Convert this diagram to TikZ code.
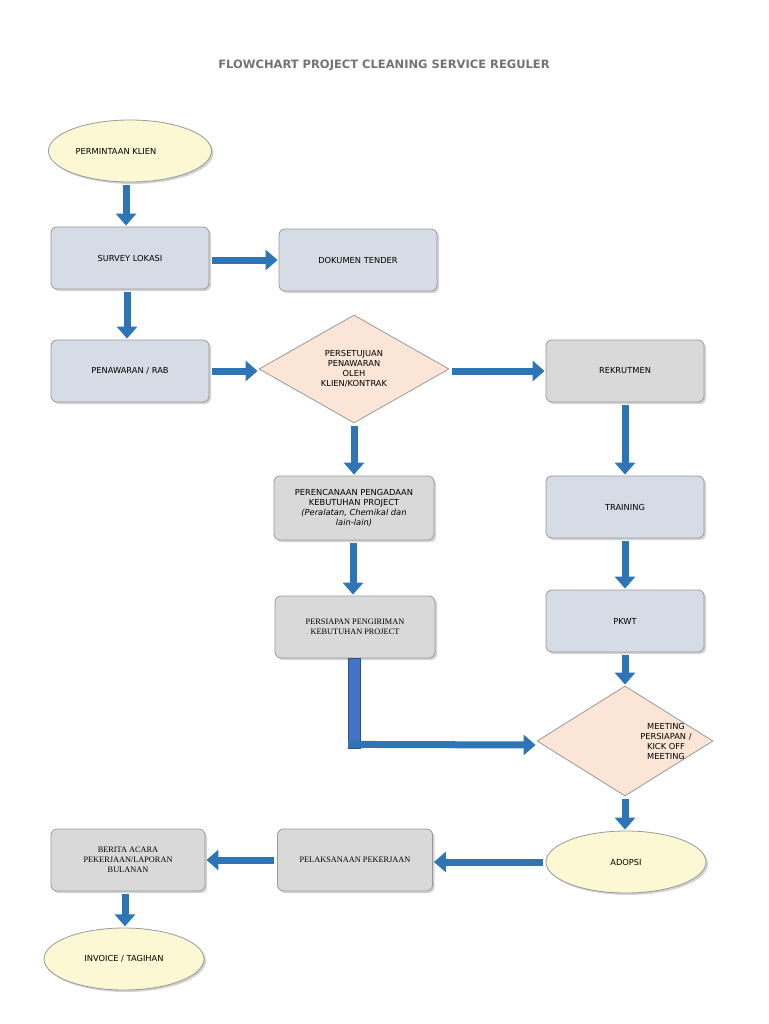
\documentclass[tikz,border=0pt]{standalone}
\usepackage{fontspec}
\setmainfont{DejaVu Sans}
\newfontfamily\serifx{Liberation Serif}
\usetikzlibrary{shapes.geometric,arrows.meta,shadows,calc}
\definecolor{ylw}{HTML}{FBF8D3}
\definecolor{bgr}{HTML}{D6DCE5}
\definecolor{gr}{HTML}{D9D9D9}
\definecolor{pch}{HTML}{FBE5D6}
\definecolor{arr}{HTML}{2E75B6}
\definecolor{bar}{HTML}{4472C4}
\begin{document}
\begin{tikzpicture}[x=1pt,y=-1pt,
 every node/.style={font=\fontsize{8.3}{10}\selectfont,align=center,text=black},
 box/.style={rectangle,rounded corners=6pt,draw=gray!80,line width=0.8pt,minimum width=158pt,minimum height=62pt,drop shadow={opacity=0.35,shadow xshift=2pt,shadow yshift=-2pt}},
 bbox/.style={box,fill=bgr},
 gbox/.style={box,fill=gr},
 ell/.style={ellipse,draw=gray!80,line width=0.8pt,fill=ylw,minimum width=160pt,minimum height=62pt,drop shadow={opacity=0.35,shadow xshift=2pt,shadow yshift=-2pt}},
 dia/.style={diamond,aspect=1.75,draw=gray!80,line width=0.8pt,fill=pch,inner sep=0pt},
 ar/.style={draw=arr,line width=7pt,shorten <=3pt,shorten >=1pt,-{Triangle[width=20pt,length=12pt]}}]
\useasboundingbox (0,0) rectangle (768,1024);
\node[font=\bfseries\fontsize{11.5}{13}\selectfont,text=gray!90!black] (title) at (384,65) {FLOWCHART PROJECT CLEANING SERVICE REGULER};
\node[ell] (klien) at (130,151) {PERMINTAAN KLIEN\hspace*{28pt}};
\node[bbox] (survey) at (130,258) {SURVEY LOKASI};
\node[bbox] (tender) at (358,260) {DOKUMEN TENDER};
\node[bbox] (rab) at (130,371) {PENAWARAN / RAB};
\node[dia,minimum width=190pt,minimum height=108pt] (setuju) at (354,369) {};
\node at (354,369) {PERSETUJUAN\\PENAWARAN\\OLEH\\KLIEN/KONTRAK};
\node[gbox] (rekrut) at (625,371) {REKRUTMEN};
\node[gbox,minimum width=160pt,minimum height=64pt] (rencana) at (354,508) {PERENCANAAN PENGADAAN\\KEBUTUHAN PROJECT\\\textit{(Peralatan, Chemikal dan}\\\textit{lain-lain)}};
\node[bbox] (training) at (625,507) {TRAINING};
\node[gbox,minimum width=160pt] (kirim) at (355,627) {\serifx PERSIAPAN PENGIRIMAN\\\serifx KEBUTUHAN PROJECT};
\node[bbox] (pkwt) at (625,621) {PKWT};
\node[dia,minimum width=176pt,minimum height=110pt] (meeting) at (625,741) {};
\node at (666,741) {MEETING\\PERSIAPAN /\\KICK OFF\\MEETING};
\node[ell] (adopsi) at (626,862) {ADOPSI};
\node[gbox,minimum width=155pt] (laksana) at (355,860) {\serifx PELAKSANAAN PEKERJAAN};
\node[gbox,minimum width=154pt] (berita) at (128,860) {\serifx BERITA ACARA\\\serifx PEKERJAAN/LAPORAN\\\serifx BULANAN};
\node[ell] (invoice) at (124,959) {INVOICE / TAGIHAN};
\draw[ar] ($(klien.south)+(-4,0)$) -- ($(survey.north)+(-4,0)$);
\draw[ar] ($(survey.east)+(0,2)$) -- ($(tender.west)+(0,0)$);
\draw[ar] ($(survey.south)+(-3,0)$) -- ($(rab.north)+(-3,0)$);
\draw[ar] (rab.east) -- (setuju.west |- rab.east);
\draw[ar] (setuju.east |- rekrut.west) -- (rekrut.west);
\draw[ar] (setuju.south) -- (rencana.north);
\draw[ar] (rekrut.south) -- (training.north);
\draw[ar] ($(rencana.south)+(-1,0)$) -- ($(kirim.north)+(-2,0)$);
\draw[ar] (training.south) -- (pkwt.north);
\draw[ar] (pkwt.south) -- (meeting.north);
\draw[draw=bar!70!black,fill=bar,line width=0.6pt] ($(kirim.south)+(-7,0)$) rectangle ($(kirim.south)+(5,90)$);
\draw[ar,shorten <=0pt] ($(kirim.south)+(-7,86)$) -- ($(meeting.west)+(0,4)$);
\draw[ar] (meeting.south) -- (meeting.south |- adopsi.north);
\draw[ar] (adopsi.west) -- (laksana.east |- adopsi.west);
\draw[ar] (laksana.west) -- (berita.east);
\draw[ar] ($(berita.south)+(-3,0)$) -- ($(berita.south)+(-3,36)$);
\end{tikzpicture}
\end{document}
